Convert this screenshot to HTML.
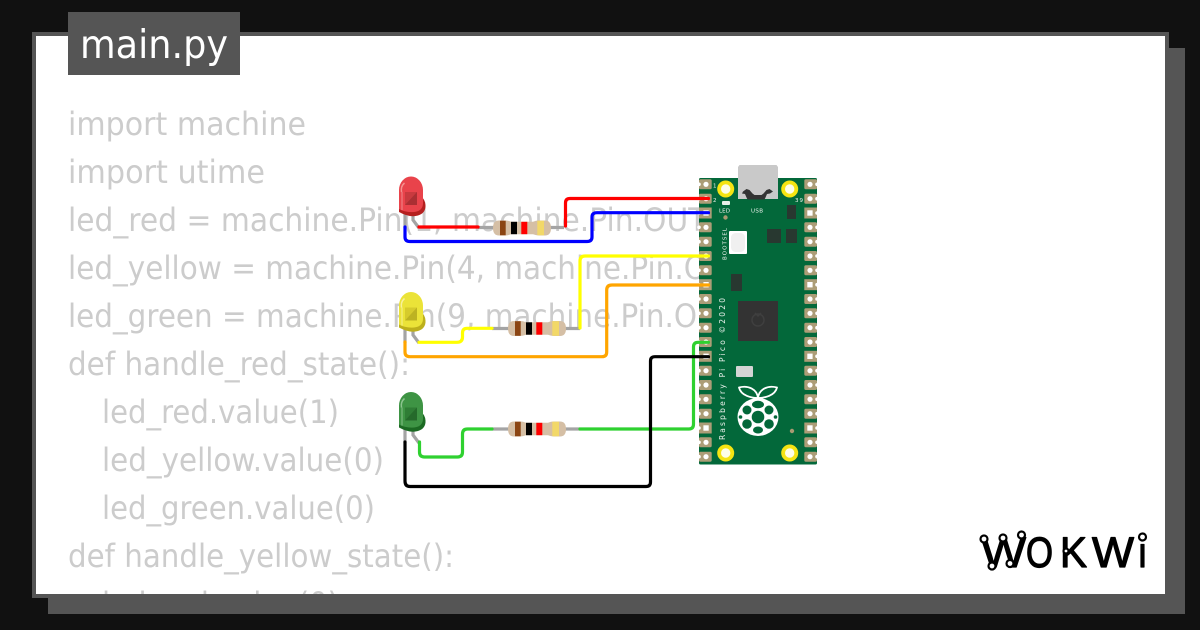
<!DOCTYPE html>
<html><head><meta charset="utf-8"><style>
html,body{margin:0;padding:0;background:#111;width:1200px;height:630px;overflow:hidden}
svg{display:block}
.c{font-family:"DejaVu Sans",sans-serif;font-size:32px;fill:#ccc}
.w{fill:none;stroke-width:3.200;stroke-linecap:round;stroke-linejoin:round}
.l{stroke:#a4a4a4;stroke-width:3.200;fill:none}
.t{font-family:"DejaVu Sans",sans-serif;fill:#eef3ee;font-size:5.500px;letter-spacing:1px}
.k{font-family:"Liberation Sans",sans-serif;font-size:43px;fill:#000;stroke:#000;stroke-width:1.200;stroke-linejoin:round}
</style></head><body>
<svg width="1200" height="630" viewBox="0 0 1200 630" xmlns="http://www.w3.org/2000/svg">
<defs>
<clipPath id="cp"><rect x="36" y="36" width="1129" height="558"/></clipPath>
<g id="led-legs"><path class="l" d="M405 212V228"/><path class="l" d="M413 212V220L419 228"/></g>
<g id="res">
<path d="M6 -7.500h6q3 0 6 1.200h22q3 -1.200 6 -1.200h6q6 0 6 7.500t-6 7.500h-6q-3 0 -6 -1.200h-22q-3 1.200 -6 1.200h-6q-6 0 -6 -7.500t6 -7.500z" fill="#d5bfa5"/>
<rect x="7" y="-7.300" width="5.700" height="14.600" fill="#8b4513"/>
<rect x="18" y="-6.200" width="6" height="12.400" fill="#000"/>
<rect x="28.300" y="-6.200" width="6" height="12.400" fill="#f00"/>
<rect x="44.300" y="-7.300" width="6.700" height="14.600" fill="#f2d868"/>
</g>
<g id="padL"><rect x="0" y="-5" width="12.700" height="10" rx="1.500" fill="#ac9d77"/><circle cx="7" cy="0" r="2.600" fill="#fff"/><circle cx="0" cy="0" r="1.800" fill="#fff"/></g>
<g id="padR"><rect x="0" y="-5" width="12.700" height="10" rx="1.500" fill="#ac9d77"/><circle cx="5.700" cy="0" r="2.600" fill="#fff"/><circle cx="12.700" cy="0" r="1.800" fill="#fff"/></g>
<g id="spadL"><rect x="0" y="-5.500" width="12.700" height="11" fill="#ac9d77"/><rect x="4.400" y="-2.700" width="5.300" height="5.400" fill="#fff"/><circle cx="0" cy="0" r="1.800" fill="#fff"/></g>
<g id="spadR"><rect x="0" y="-5.500" width="12.700" height="11" fill="#ac9d77"/><rect x="3" y="-2.700" width="5.300" height="5.400" fill="#fff"/><circle cx="12.700" cy="0" r="1.800" fill="#fff"/></g>
</defs>
<rect width="1200" height="630" fill="#111"/>
<rect x="48" y="48" width="1137" height="566" fill="#555"/>
<rect x="32" y="32" width="1137" height="566" fill="#555"/>
<rect x="36" y="36" width="1129" height="558" fill="#fff"/>
<g clip-path="url(#cp)">
<g class="c">
<text x="68" y="135" textLength="238" lengthAdjust="spacingAndGlyphs">import machine</text>
<text x="68" y="183" textLength="197" lengthAdjust="spacingAndGlyphs">import utime</text>
<text x="68" y="231" textLength="650" lengthAdjust="spacingAndGlyphs">led_red = machine.Pin(1, machine.Pin.OUT)</text>
<text x="68" y="279" textLength="690" lengthAdjust="spacingAndGlyphs">led_yellow = machine.Pin(4, machine.Pin.OUT)</text>
<text x="68" y="327" textLength="680" lengthAdjust="spacingAndGlyphs">led_green = machine.Pin(9, machine.Pin.OUT)</text>
<text x="68" y="375" textLength="342" lengthAdjust="spacingAndGlyphs">def handle_red_state():</text>
<text x="102" y="423" textLength="237" lengthAdjust="spacingAndGlyphs">led_red.value(1)</text>
<text x="102" y="471" textLength="282" lengthAdjust="spacingAndGlyphs">led_yellow.value(0)</text>
<text x="102" y="519" textLength="273" lengthAdjust="spacingAndGlyphs">led_green.value(0)</text>
<text x="68" y="567" textLength="386" lengthAdjust="spacingAndGlyphs">def handle_yellow_state():</text>
<text x="102" y="615" textLength="237" lengthAdjust="spacingAndGlyphs">led_red.value(0)</text>
</g>
</g>
<rect x="68" y="12" width="172" height="63" fill="#555"/>
<text x="80" y="58" font-family="DejaVu Sans,sans-serif" font-size="39" fill="#fff" textLength="148" lengthAdjust="spacingAndGlyphs">main.py</text>

<!-- Pico board -->
<rect x="699" y="178" width="118" height="286.500" rx="1.500" fill="#03683a"/>
<g id="pins">
<use href="#padL" x="699" y="184.300"/><use href="#padL" x="699" y="198.700"/><use href="#spadL" x="699" y="213"/><use href="#padL" x="699" y="227.300"/><use href="#padL" x="699" y="241.700"/><use href="#padL" x="699" y="256"/><use href="#padL" x="699" y="270.300"/><use href="#spadL" x="699" y="284.700"/><use href="#padL" x="699" y="299"/><use href="#padL" x="699" y="313.300"/><use href="#padL" x="699" y="327.700"/><use href="#padL" x="699" y="342"/><use href="#spadL" x="699" y="356.300"/><use href="#padL" x="699" y="370.700"/><use href="#padL" x="699" y="385"/><use href="#padL" x="699" y="399.300"/><use href="#padL" x="699" y="413.700"/><use href="#spadL" x="699" y="428"/><use href="#padL" x="699" y="442.300"/><use href="#padL" x="699" y="456.700"/>
<use href="#padR" x="804.300" y="184.300"/><use href="#padR" x="804.300" y="198.700"/><use href="#spadR" x="804.300" y="213"/><use href="#padR" x="804.300" y="227.300"/><use href="#padR" x="804.300" y="241.700"/><use href="#padR" x="804.300" y="256"/><use href="#padR" x="804.300" y="270.300"/><use href="#spadR" x="804.300" y="284.700"/><use href="#padR" x="804.300" y="299"/><use href="#padR" x="804.300" y="313.300"/><use href="#padR" x="804.300" y="327.700"/><use href="#padR" x="804.300" y="342"/><use href="#spadR" x="804.300" y="356.300"/><use href="#padR" x="804.300" y="370.700"/><use href="#padR" x="804.300" y="385"/><use href="#padR" x="804.300" y="399.300"/><use href="#padR" x="804.300" y="413.700"/><use href="#spadR" x="804.300" y="428"/><use href="#padR" x="804.300" y="442.300"/><use href="#padR" x="804.300" y="456.700"/>
</g>
<!-- USB -->
<path d="M738 167l1.500 -2h37l1.500 2v32h-40z" fill="#c9c9c9"/>
<path d="M743 191.500l3.500 -2.500 3 1 3 3.500 2 1.500h7l2 -1.500 3 -3.500 3 -1 3.500 2.500 -3 2 -3 .5 -1.500 3.500 -1 2h-17l-1 -2 -1.500 -3.500 -3 -.5z" fill="#333"/>
<!-- holes -->
<g fill="#fdfde8" stroke="#f5e412" stroke-width="3.800">
<circle cx="725.700" cy="189" r="6.600"/><circle cx="789.700" cy="189" r="6.600"/>
<circle cx="725.700" cy="453" r="6.600"/><circle cx="789.700" cy="453" r="6.600"/>
</g>
<!-- components -->
<rect x="722" y="201" width="8" height="4" rx="1" fill="#e8efe8"/>
<circle cx="725.500" cy="217.500" r="2.200" fill="#a89a72"/>
<rect x="729" y="231" width="18" height="23" rx="1" fill="#fff"/>
<rect x="731" y="233" width="14" height="19" rx="4.500" fill="#f0f0f0"/>
<rect x="787" y="205" width="9" height="14" fill="#283830"/>
<rect x="767" y="229" width="14" height="14" fill="#283830"/>
<rect x="786" y="229" width="11" height="14" fill="#283830"/>
<rect x="731" y="274" width="11" height="17" fill="#283830"/>
<rect x="738" y="301" width="40" height="40" fill="#333"/>
<g fill="none" stroke="#3f3f3f" stroke-width="1.500"><circle cx="758" cy="320" r="6"/><path d="M755 313l3 3 3 -3"/></g>
<rect x="736" y="366" width="17" height="11" rx="1" fill="#d4d4d4"/>
<circle cx="792" cy="431" r="2.200" fill="#a89a72"/>
<!-- raspberry -->
<g>
<ellipse cx="758" cy="417" rx="20.500" ry="19" fill="#fff"/>
<path d="M758 398C752 398 741 396 739 387.500C748 385 757 389 758 398ZM758 398C764 398 775 396 777 387.500C768 385 759 389 758 398Z" fill="#03683a" stroke="#fff" stroke-width="1.800" stroke-linejoin="round"/>
<g fill="#03683a">
<ellipse cx="758" cy="404.500" rx="6" ry="3.800"/>
<circle cx="758" cy="417" r="6.300"/>
<ellipse cx="758" cy="430" rx="5" ry="3.500"/>
<circle cx="747" cy="410" r="4.500"/><circle cx="769" cy="410" r="4.500"/>
<circle cx="747" cy="424" r="4.800"/><circle cx="769" cy="424" r="4.800"/>
<circle cx="740.500" cy="417" r="1.800"/><circle cx="775.500" cy="417" r="1.800"/>
</g>
</g>
<!-- board labels -->
<text class="t" x="0" y="0" transform="translate(725,440) rotate(-90)" style="font-size:7.500px" textLength="143">Raspberry Pi Pico ©2020</text>
<text class="t" x="0" y="0" transform="translate(726.500,260) rotate(-90)" textLength="33">BOOTSEL</text>
<text class="t" x="719" y="212.500" textLength="12">LED</text>
<text class="t" x="751" y="212.500" textLength="13">USB</text>
<text class="t" x="713" y="187.500">1</text>
<text class="t" x="713" y="202">2</text>
<text class="t" x="795" y="202">39</text>

<!-- legs -->
<use href="#led-legs"/>
<use href="#led-legs" y="115"/>
<use href="#led-legs" y="215"/>
<path class="l" d="M478 227.500H564"/>
<path class="l" d="M492 328.500H580"/>
<path class="l" d="M492 429H580"/>
<use href="#res" x="493" y="228"/>
<use href="#res" x="508" y="328.500"/>
<use href="#res" x="508" y="429"/>

<!-- LEDs -->
<g id="red">
<path d="M399 205V212Q410 218 418 215.500Q426 213 425.500 205Q425 199 421 197Z" fill="#b5201f"/>
<path d="M399 190a12 13.500 0 0 1 24 0V203Q423 211 414 212Q405 212.500 399 209Z" fill="#e9434b"/>
<path d="M401.500 192a8 9 0 0 1 3 -9" stroke="#f3908f" stroke-width="1.500" fill="none"/>
<path d="M402 192v18" stroke="#ef7f80" stroke-width="1.200" fill="none"/>
<path d="M405 192h12v13h-12z" fill="#c93a3f"/><path d="M405 205l12 -13v13z" fill="#ab2f33"/>
</g>
<g transform="translate(0,115.500)">
<path d="M399 205V212Q410 218 418 215.500Q426 213 425.500 205Q425 199 421 197Z" fill="#bdb01c"/>
<path d="M399 190a12 13.500 0 0 1 24 0V203Q423 211 414 212Q405 212.500 399 209Z" fill="#ebe338"/>
<path d="M401.500 192a8 9 0 0 1 3 -9" stroke="#f7f19c" stroke-width="1.500" fill="none"/>
<path d="M402 192v18" stroke="#f4ee85" stroke-width="1.200" fill="none"/>
<path d="M405 192h12v13h-12z" fill="#d6cb2c"/><path d="M405 205l12 -13v13z" fill="#bdb322"/>
</g>
<g transform="translate(0,215.500)">
<path d="M399 205V212Q410 218 418 215.500Q426 213 425.500 205Q425 199 421 197Z" fill="#1c6a23"/>
<path d="M399 190a12 13.500 0 0 1 24 0V203Q423 211 414 212Q405 212.500 399 209Z" fill="#3e9444"/>
<path d="M401.500 192a8 9 0 0 1 3 -9" stroke="#8cc48f" stroke-width="1.500" fill="none"/>
<path d="M402 192v18" stroke="#7ab87e" stroke-width="1.200" fill="none"/>
<path d="M405 192h12v13h-12z" fill="#2f7d35"/><path d="M405 205l12 -13v13z" fill="#256a2b"/>
</g>

<!-- wires -->
<path class="w" stroke="#f00" d="M419 227H478M565.500 226V203Q565.500 198.500 570 198.500H708.500"/>
<path class="w" stroke="#00f" d="M405 227V237Q405 241.500 410 241.500H587Q592 241.500 592 237V217Q592 212.700 597 212.700H708.500"/>
<path class="w" stroke="#ff0" d="M419 342.300H457Q462.500 342.300 462.500 337V333Q462.500 328.300 467 328.300H492M580 328V261Q580 256 585 256H708.500"/>
<path class="w" stroke="#ffa500" d="M405 342V352Q405 356.700 410 356.700H602Q606.700 356.700 606.700 352V290Q606.700 285 612 285H708.500"/>
<path class="w" stroke="#2fd130" d="M419.500 442V452Q419.500 457 424.500 457H457.500Q462.500 457 462.500 452V434Q462.500 429 467.500 429H492M580 429H689Q693.500 429 693.500 424V347Q693.500 342.300 698 342.300H708.500"/>
<path class="w" stroke="#000" d="M405 442V481Q405 486.500 410 486.500H646Q650.500 486.500 650.500 482V361Q650.500 356.700 655 356.700H708.500"/>

<!-- logo -->
<text class="k" x="981" y="567" textLength="45" lengthAdjust="spacingAndGlyphs">W</text>
<text class="k" x="1026" y="567" textLength="27" lengthAdjust="spacingAndGlyphs">O</text>
<text class="k" x="1060" y="567" textLength="27" lengthAdjust="spacingAndGlyphs">K</text>
<text class="k" x="1092" y="567" textLength="42" lengthAdjust="spacingAndGlyphs">W</text>
<text class="k" x="1138.500" y="567" textLength="8" lengthAdjust="spacingAndGlyphs">i</text>
<g fill="#fff" stroke="#000" stroke-width="2.200">
<circle cx="984" cy="539" r="3.500"/><circle cx="1003" cy="538" r="3.500"/><circle cx="1021.500" cy="535" r="3.500"/>
<circle cx="992" cy="566" r="3.500"/><circle cx="1010" cy="563.500" r="3.500"/>
<circle cx="1066" cy="551" r="2.500"/><circle cx="1142.500" cy="537" r="3.500"/>
</g>
</svg>
</body></html>
